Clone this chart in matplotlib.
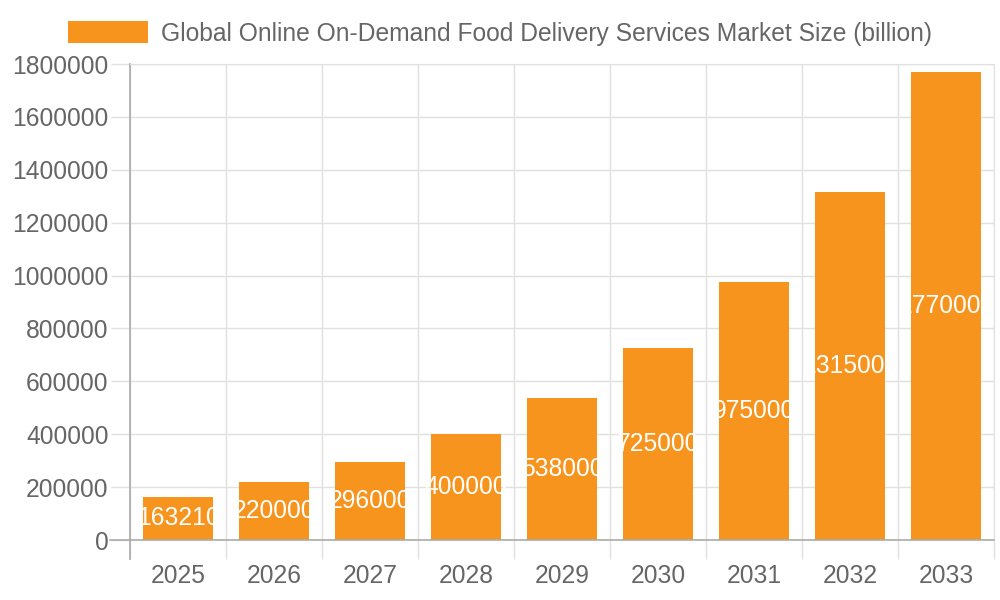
import numpy as np
import matplotlib
matplotlib.use("Agg")
from matplotlib import pyplot as plt

# data
years = ["2025", "2026", "2027", "2028", "2029", "2030", "2031", "2032", "2033"]
market_size = [163210, 220000, 296000, 400000, 538000, 725000, 975000, 1315000, 1770000]
y_ticks = [0, 200000, 400000, 600000, 800000, 1000000, 1200000, 1400000, 1600000, 1800000]
series_name = "Global Online On-Demand Food Delivery Services Market Size (billion)"

bar_color = "#F7941E"
grid_color = "#e0e0e0"
axis_color = "#aaaaaa"
text_color = "#666666"
fsize = 17.75

plt.rcParams['font.family'] = ['Liberation Sans', 'DejaVu Sans']

fig = plt.figure(figsize=(10, 6), dpi=100)
ax = fig.add_axes([0.13, 0.1, 0.864, 1 - 0.1 - 64 / 600])

x = np.arange(len(years))
bars = ax.bar(x, market_size, width=0.72, color=bar_color, label=series_name, zorder=2)

# value labels in the middle of each bar, clipped to the bar
for rect, val in zip(bars, market_size):
    t = ax.text(rect.get_x() + rect.get_width() / 2, val / 2, str(val),
                ha='center', va='center', color='white', fontsize=fsize, zorder=3)
    t.set_clip_path(rect)

ax.set_xlim(-0.5, len(years) - 0.5)
ax.set_ylim(0, 1800000)

# x: labels at centres, grid and ticks at category boundaries
ax.set_xticks(x)
ax.set_xticklabels(years)
ax.set_xticks(np.arange(len(years) + 1) - 0.5, minor=True)
ax.tick_params(axis='x', which='major', length=0, pad=17, labelsize=fsize, labelcolor=text_color)
ax.tick_params(axis='x', which='minor', length=14, color=grid_color, width=1)
ax.grid(axis='x', which='minor', color=grid_color, linewidth=1, zorder=0)

ax.set_yticks(y_ticks)
ax.set_yticklabels([str(v) for v in y_ticks])
ax.tick_params(axis='y', length=14, pad=1.5, color=grid_color, width=1,
               labelsize=fsize, labelcolor=text_color)
ax.grid(axis='y', which='major', color=grid_color, linewidth=1, zorder=0)

for side in ['top', 'right']:
    ax.spines[side].set_color(grid_color)
for side in ['left', 'bottom']:
    ax.spines[side].set_color(axis_color)
    ax.spines[side].set_linewidth(1.2)
ax.set_axisbelow(True)

# darker stubs where the axes cross, like the original
ax.plot([-0.5, -0.5], [0, -0.04], transform=ax.get_xaxis_transform(), color=axis_color,
        lw=1.2, clip_on=False)
ax.plot([0, -0.023], [0, 0], transform=ax.get_yaxis_transform(), color=axis_color,
        lw=1.2, clip_on=False)

fig.legend(handles=[bars], labels=[series_name], loc='center',
           bbox_to_anchor=(0.5, 1 - 33.5 / 600), frameon=False, fontsize=fsize,
           labelcolor=text_color, handlelength=3.25, handleheight=0.94,
           handletextpad=0.5, borderpad=0)

fig.savefig("out.png", dpi=100)
